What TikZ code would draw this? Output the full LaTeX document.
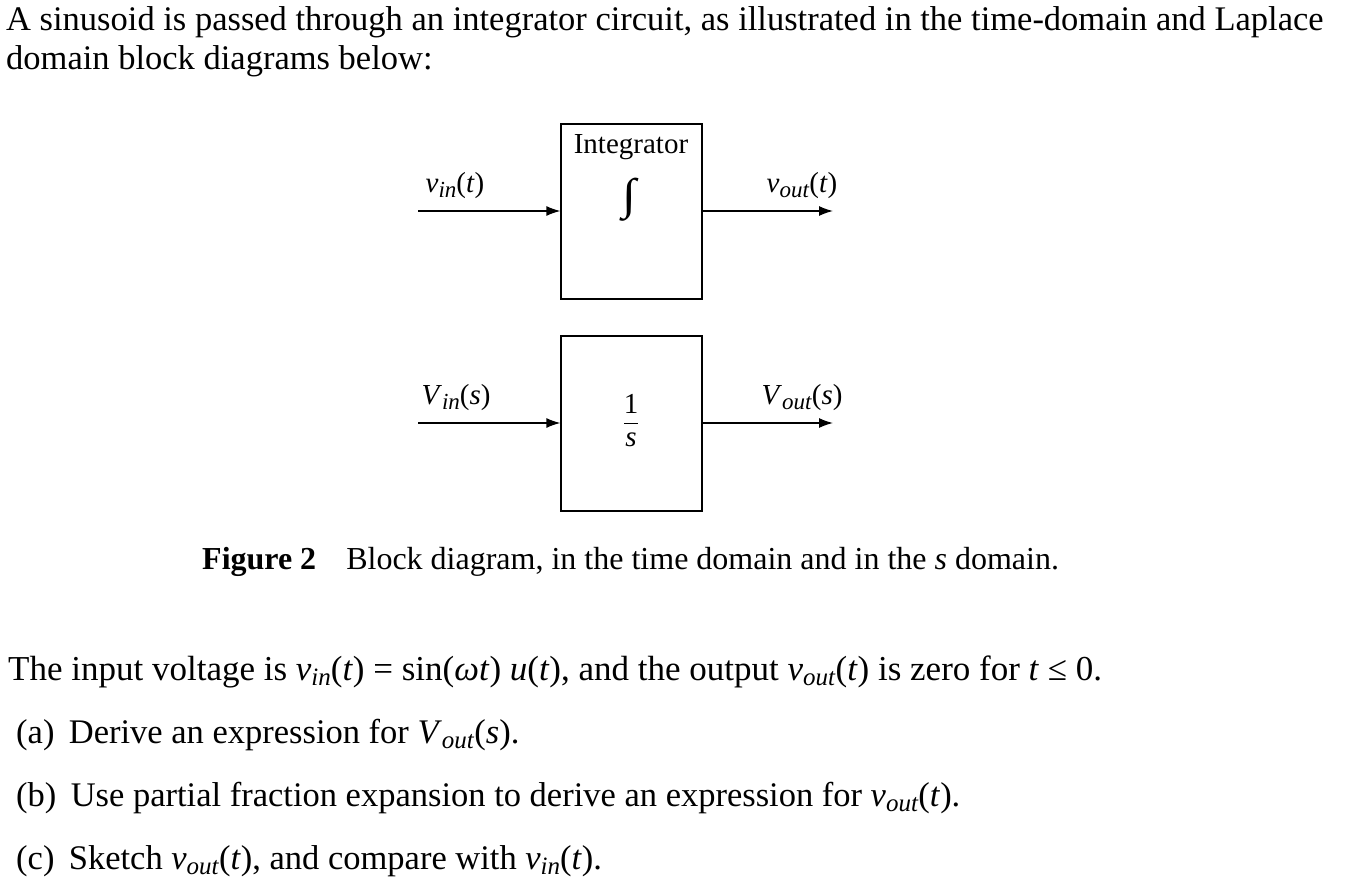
\documentclass[tikz,border=0pt]{standalone}
\usetikzlibrary{arrows.meta}
\usepackage{fontspec}
\setmainfont{Liberation Serif}
\newcommand{\vi}[1]{\textit{#1}}
\begin{document}
\begin{tikzpicture}[x=1pt,y=-1pt,
  blk/.style={draw,line width=1.3pt,minimum width=141pt,minimum height=175pt,inner sep=0pt},
  arr/.style={line width=1.3pt,-{Latex[length=14pt,width=10pt]}},
  lbl/.style={font=\fontsize{29}{32}\selectfont},
  txt/.style={font=\fontsize{34.5}{40}\selectfont,anchor=west,inner sep=0pt}]
\useasboundingbox (0,0) rectangle (1366,891);
\newcommand{\lsub}[1]{\raisebox{-5pt}{\fontsize{23}{24}\selectfont\vi{#1}}}
\newcommand{\sub}[1]{\raisebox{-5pt}{\fontsize{25}{26}\selectfont\vi{#1}}}
\node[txt] (l1) at (6,22) {A sinusoid is passed through an integrator circuit, as illustrated in the time-domain and Laplace};
\node[txt] (l2) at (6,61) {domain block diagrams below:};
\node[blk] (b1) at (631.5,211.5) {};
\node[lbl] (t1) at (631,147) {Integrator};
\node[inner sep=0pt,font=\fontsize{44}{44}\selectfont] (int) at (629,200) {\scalebox{1.15}[1]{∫}};
\coordinate (i1) at (418,211);
\coordinate (o1) at (833,211);
\draw[arr] (i1) -- (i1 -| b1.west);
\draw[arr] (o1 -| b1.east) -- (o1);
\node[lbl] (vin) at (455,186) {\vi{v}\lsub{in}(\vi{t})};
\node[lbl] (vout) at (802,186) {\vi{v}\lsub{out}(\vi{t})};
\node[blk] (b2) at (631.5,423.5) {};
\node[lbl] (n1) at (631,404) {1};
\draw[line width=1pt] (624,423) -- (638,423);
\node[lbl] (s1) at (631,440) {\vi{s}};
\coordinate (i2) at (418,423);
\coordinate (o2) at (833,423);
\draw[arr] (i2) -- (i2 -| b2.west);
\draw[arr] (o2 -| b2.east) -- (o2);
\node[lbl] (Vin) at (456,398) {\vi{V}\lsub{in}(\vi{s})};
\node[lbl] (Vout) at (802,398) {\vi{V}\lsub{out}(\vi{s})};
\node[anchor=west,inner sep=0pt,font=\fontsize{32}{34}\selectfont] (cap) at (202,562) {\textbf{Figure 2}\hspace{30pt}Block diagram, in the time domain and in the \vi{s} domain.};
\node[txt,font=\fontsize{35}{40}\selectfont] (l3) at (8,672) {The input voltage is \vi{v}\sub{in}(\vi{t}) = sin(\vi{ωt}) \vi{u}(\vi{t}), and the output \vi{v}\sub{out}(\vi{t}) is zero for \vi{t} ≤ 0.};
\node[txt] (l4) at (16,735) {(a)\, Derive an expression for \vi{V}\sub{out}(\vi{s}).};
\node[txt] (l5) at (16,798) {(b)\, Use partial fraction expansion to derive an expression for \vi{v}\sub{out}(\vi{t}).};
\node[txt] (l6) at (16,861) {(c)\, Sketch \vi{v}\sub{out}(\vi{t}), and compare with \vi{v}\sub{in}(\vi{t}).};
\end{tikzpicture}
\end{document}
